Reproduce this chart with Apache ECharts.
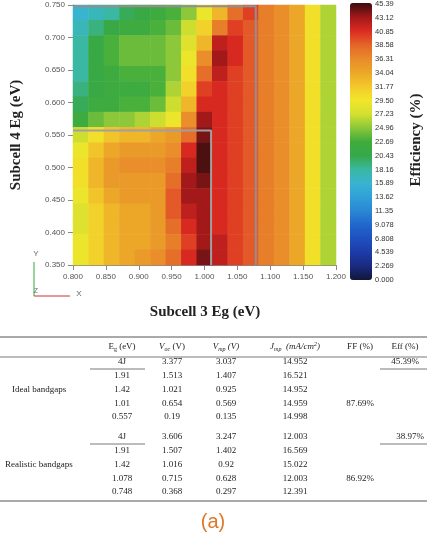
<!DOCTYPE html><html><head><meta charset="utf-8"><script src="https://cdn.jsdelivr.net/npm/echarts@6/dist/echarts.min.js"></script>
<style>html,body{margin:0;padding:0;background:#fff}#c{width:427px;height:539px}</style></head><body><div id="c"></div><script>
const xCats=['0.800','0.825','0.850','0.875','0.900','0.925','0.950','0.975','1.000','1.025','1.050','1.075','1.100','1.125','1.150','1.175','1.200'];
const yCats=['0.350','0.375','0.400','0.425','0.450','0.475','0.500','0.525','0.550','0.575','0.600','0.625','0.650','0.675','0.700','0.725','0.750'];
// rows listed from y=0.750 (top) down to y=0.350
const effRows=[
[16,17,18,20,21,22,23,25,29,33,38,40,37,36,34,30,26],
[17,19,21,22,22,23,24,27,31,37,40,39,37,36,34,30,26],
[18,21,23,24,24,24,25,28,33,42,41,39,37,36,34,30,26],
[18,21,23,24,24,24,25,29,36,43,41,39,37,36,34,30,26],
[18,21,22,23,23,23,25,30,38,42,40,39,37,36,34,30,26],
[19,21,22,22,22,23,26,31,40,41,40,39,37,36,34,30,26],
[20,22,22,23,23,24,27,33,41,41,40,39,37,36,34,30,26],
[22,24,25,25,26,27,29,36,43,41,40,39,37,36,34,30,26],
[27,30,32,33,33,34,35,38,44,41,40,39,37,36,34,30,26],
[29,32,34,35,35,35,36,41,45,41,40,39,37,36,34,30,26],
[30,33,35,36,36,36,37,42,45,41,40,39,37,36,34,30,26],
[30,33,35,35,35,35,38,43,44,41,40,39,37,36,34,30,26],
[29,32,34,35,35,35,39,43,43,41,40,39,37,36,34,30,26],
[28,31,33,34,34,35,39,42,43,41,40,39,37,36,34,30,26],
[28,31,33,34,34,35,38,41,43,41,40,39,37,36,34,30,26],
[29,31,33,34,34,35,37,40,43,42,40,39,37,36,34,30,26],
[29,31,33,34,35,36,38,41,44,42,40,39,37,36,34,30,26]];
const cbTicks=['0.000','2.269','4.539','6.808','9.078','11.35','13.62','15.89','18.16','20.43','22.69','24.96','27.23','29.50','31.77','34.04','36.31','38.58','40.85','43.12','45.39'];
const idealBox=[[0.8,0.557],[1.01,0.557],[1.01,0.35]];
const realBox=[[0.8,0.748],[1.078,0.748],[1.078,0.35]];
const idealEg=['4J','1.91','1.42','1.01','0.557'];
const idealVoc=['3.377','1.513','1.021','0.654','0.19'];
const idealVmp=['3.037','1.407','0.925','0.569','0.135'];
const idealJmp=['14.952','16.521','14.952','14.959','14.998'];
const realEg=['4J','1.91','1.42','1.078','0.748'];
const realVoc=['3.606','1.507','1.016','0.715','0.368'];
const realVmp=['3.247','1.402','0.92','0.628','0.297'];
const realJmp=['12.003','16.569','15.022','12.003','12.391'];
const ffVals=['87.69%','86.92%'];
const effVals=['45.39%','38.97%'];

const data=[];
effRows.forEach((row,ri)=>{const yi=16-ri;row.forEach((v,xi)=>data.push([xi,yi,v]));});
const G={left:73,top:5,width:263,height:260};
const lbl={fontSize:8,color:'#555',fontFamily:'Liberation Sans'};
const serif='Liberation Serif';
const g=[];
const colX=[122,172,226,295,360,405];
function t(x,y,s,extra){g.push(Object.assign({type:'text',x:x,y:y,style:Object.assign({text:s,fontFamily:serif,fontSize:9,fill:'#222',textAlign:'center',textVerticalAlign:'middle'},extra||{})}));}
function ln(x1,y1,x2,y2,w){g.push({type:'line',shape:{x1,y1,x2,y2},style:{stroke:'#555',lineWidth:w||0.8}});}
ln(0,337,427,337,1);ln(0,357,427,357,0.8);ln(0,501,427,501,1);
ln(90,369,145,369);ln(380,369,427,369);ln(90,444,145,444);ln(380,444,427,444);
g.push({type:'text',x:122,y:347,style:{text:'{n|E}{s|g}{n| (eV)}',rich:{n:{fontFamily:serif,fontSize:9,fill:'#222'},s:{fontFamily:serif,fontSize:6,fill:'#222',padding:[4,0,0,0]}},textAlign:'center',textVerticalAlign:'middle'}});
g.push({type:'text',x:172,y:347,style:{text:'{i|V}{s|oc}{n| (V)}',rich:{n:{fontFamily:serif,fontSize:9,fill:'#222'},i:{fontFamily:serif,fontSize:9,fontStyle:'italic',fill:'#222'},s:{fontFamily:serif,fontSize:6,fontStyle:'italic',fill:'#222',padding:[4,0,0,0]}},textAlign:'center',textVerticalAlign:'middle'}});
g.push({type:'text',x:226,y:347,style:{text:'{i|V}{s|mp}{i| (V)}',rich:{i:{fontFamily:serif,fontSize:9,fontStyle:'italic',fill:'#222'},s:{fontFamily:serif,fontSize:6,fontStyle:'italic',fill:'#222',padding:[4,0,0,0]}},textAlign:'center',textVerticalAlign:'middle'}});
g.push({type:'text',x:295,y:347,style:{text:'{i|J}{s|mp}{i|  (mA/cm}{p|2}{i|)}',rich:{i:{fontFamily:serif,fontSize:9,fontStyle:'italic',fill:'#222'},s:{fontFamily:serif,fontSize:6,fontStyle:'italic',fill:'#222',padding:[4,0,0,0]},p:{fontFamily:serif,fontSize:6,fontStyle:'italic',fill:'#222',padding:[0,0,5,0]}},textAlign:'center',textVerticalAlign:'middle'}});
t(360,347,'FF (%)');t(405,347,'Eff (%)');
const iy=[362,376,390,404,417], ry=[437,451,465,479,492];
[[idealEg,idealVoc,idealVmp,idealJmp,iy],[realEg,realVoc,realVmp,realJmp,ry]].forEach(b=>{
 for(let i=0;i<5;i++){for(let c=0;c<4;c++)t(colX[c],b[4][i],b[c][i]);}
});
t(12,390,'Ideal bandgaps',{textAlign:'left'});t(5,465,'Realistic bandgaps',{textAlign:'left'});
t(360,404,ffVals[0]);t(360,479,ffVals[1]);t(405,362,effVals[0]);t(410,437,effVals[1]);
t(213,522,'(a)',{fontFamily:'Liberation Sans',fontSize:20,fill:'#e07828'});
g.push({type:'line',shape:{x1:34,y1:296,x2:34,y2:262},style:{stroke:'#3a3',lineWidth:1}});
g.push({type:'line',shape:{x1:34,y1:296,x2:70,y2:296},style:{stroke:'#c33',lineWidth:1}});
t(36,254,'Y',{fontFamily:'Liberation Sans',fontSize:8,fill:'#666'});t(79,294,'X',{fontFamily:'Liberation Sans',fontSize:8,fill:'#666'});t(36,291,'Z',{fontFamily:'Liberation Sans',fontSize:7,fill:'#666'});
t(205,312,'Subcell 3 Eg (eV)',{fontSize:15,fontWeight:'bold'});
g.push({type:'text',x:16,y:135,rotation:Math.PI/2,style:{text:'Subcell 4 Eg (eV)',fontFamily:serif,fontSize:15,fontWeight:'bold',fill:'#222',textAlign:'center',textVerticalAlign:'middle'}});
g.push({type:'text',x:416,y:140,rotation:Math.PI/2,style:{text:'Efficiency (%)',fontFamily:serif,fontSize:15,fontWeight:'bold',fill:'#222',textAlign:'center',textVerticalAlign:'middle'}});

const chart=echarts.init(document.getElementById('c'));
chart.setOption({animation:false,
grid:[Object.assign({},G),Object.assign({},G),{left:350,top:3,width:22,height:277}],
xAxis:[{type:'category',data:xCats,gridIndex:0,show:false},
 {type:'value',gridIndex:1,min:0.8,max:1.2,interval:0.05,axisLabel:Object.assign({formatter:v=>v.toFixed(3)},lbl),axisLine:{lineStyle:{color:'#888'}},axisTick:{lineStyle:{color:'#888'}},splitLine:{show:false}},
 {type:'value',gridIndex:2,show:false}],
yAxis:[{type:'category',data:yCats,gridIndex:0,show:false},
 {type:'value',gridIndex:1,min:0.35,max:0.75,interval:0.05,axisLabel:Object.assign({formatter:v=>v.toFixed(3)},lbl),axisLine:{show:true,lineStyle:{color:'#888'}},axisTick:{show:true,lineStyle:{color:'#888'}},splitLine:{show:false}},
 {type:'category',gridIndex:2,data:cbTicks,boundaryGap:false,position:'right',axisLine:{show:false},axisTick:{show:false},axisLabel:{fontSize:7.5,color:'#333',fontFamily:'Liberation Sans',margin:3}}],
visualMap:{type:'continuous',min:0,max:45.39,seriesIndex:0,show:true,calculable:false,left:350,top:3,padding:0,itemWidth:22,itemHeight:277,text:null,showLabel:false,
 inRange:{color:['#101838','#1a2a80','#1c3ca8','#1f50c0','#2068cc','#2a88d4','#30a0d8','#38b4d0','#3ab8a0','#36a848','#40ac3c','#8cc83a','#d4e030','#f2e62a','#f2c82a','#eca628','#e88a2a','#e46428','#dc2a22','#a01818','#3a0e10']}},
series:[{type:'heatmap',xAxisIndex:0,yAxisIndex:0,data:data,itemStyle:{borderWidth:0}},
 {type:'line',xAxisIndex:1,yAxisIndex:1,data:idealBox,symbol:'none',lineStyle:{color:'#a0a0a0',width:2}},
 {type:'line',xAxisIndex:1,yAxisIndex:1,data:realBox,symbol:'none',lineStyle:{color:'#909090',width:2}}],
graphic:g});
</script></body></html>
